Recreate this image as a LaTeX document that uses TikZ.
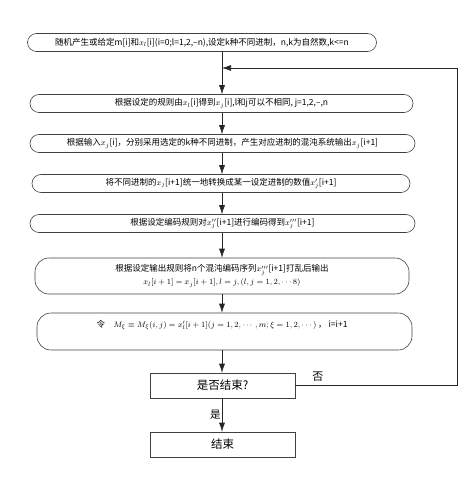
\documentclass[tikz,border=0pt]{standalone}
\usepackage{amsmath}
\usepackage{amssymb}
\usepackage{fontspec}
\setmainfont{Noto Sans CJK SC}
\usepackage{tikz}
\usetikzlibrary{arrows.meta}
\usetikzlibrary{positioning}

\tikzset{
	procbox/.style={draw=black!75, line width=0.6pt, rounded corners=9pt, minimum height=18pt, inner sep=1pt, font=\fontsize{8.5}{11}\selectfont},
	testbox/.style={draw=black!75, line width=0.6pt, minimum width=145pt, minimum height=25pt, inner sep=1pt, font=\fontsize{11.5}{13}\selectfont},
	flow/.style={-{Latex[length=9pt,width=6pt]}, line width=0.6pt, draw=black!85}
}

\begin{document}
\begin{tikzpicture}[x=1pt,y=-1pt]
	\useasboundingbox (0,0) rectangle (474,481);
	% steps
	\node [procbox, minimum width=349pt] (start) at (202,42.5) {随机产生或给定m[i]和$x_l$[i](i=0;l=1,2,--n),设定k种不同进制，n,k为自然数,k<=n};
	\node [procbox, minimum width=383pt] (rule) at (221.5,103.5) {根据设定的规则由$x_l$[i]得到$x_j$[i],l和j可以不相同, j=1,2,--,n};
	\node [procbox, minimum width=385pt] (chaos) at (222.5,143.5) {根据输入$x_j$[i]，分别采用选定的k种不同进制，产生对应进制的混沌系统输出$x_j$[i+1]};
	\node [procbox, minimum width=378pt] (conv) at (221,183.5) {将不同进制的$x_j$[i+1]统一地转换成某一设定进制的数值$x'_j$[i+1]};
	\node [procbox, minimum width=385pt] (code) at (222.5,223.5) {根据设定编码规则对$x''_j$[i+1]进行编码得到$x'''_j$[i+1]};
	\node [procbox, minimum width=374pt, minimum height=36pt, rounded corners=14pt, align=center] (out) at (222,276) {根据设定输出规则将n个混沌编码序列$x'''_j$[i+1]打乱后输出\\[2pt] $x_l[i+1]=x_j[i+1],l=j,(l,j=1,2,\cdots 8)$};
	\node [procbox, minimum width=375pt, minimum height=37pt, rounded corners=14pt] (let) at (224.5,331.5) {};
	\node [font=\fontsize{8.5}{11}\selectfont, inner sep=1pt] (lettext) at (222,325) {令\quad $M_\xi\equiv M_\xi(i,j)=x'_l[i+1](j=1,2,\cdots,m;\xi=1,2,\cdots)$ ， i=i+1};
	% test and end
	\node [testbox] (test) at (222.5,385.5) {是否结束?};
	\node [testbox] (end) at (222.5,444.5) {结束};
	\coordinate (join) at (222,68);
	\coordinate (turn) at (457,68);

	\draw [flow] (start.south -| join) -- (rule.north -| join);
	\draw [flow] (rule.south -| join) -- (chaos.north -| join);
	\draw [flow] (chaos.south -| join) -- (conv.north -| join);
	\draw [flow] (conv.south -| join) -- (code.north -| join);
	\draw [flow] (code.south -| join) -- (out.north -| join);
	\draw [flow] (out.south -| join) -- (let.north -| join);
	\draw [flow] (let.south -| join) -- (test.north -| join);
	\draw [flow] (test.south -| join) -- node [left, font=\fontsize{10.5}{12}\selectfont, inner sep=1pt] {是} (end.north -| join);
	\draw [flow] (test.east) -- node [pos=0.14, above, font=\fontsize{11}{12}\selectfont] {否} (test.east -| turn) -- (turn) -- (join);
\end{tikzpicture}
\end{document}
